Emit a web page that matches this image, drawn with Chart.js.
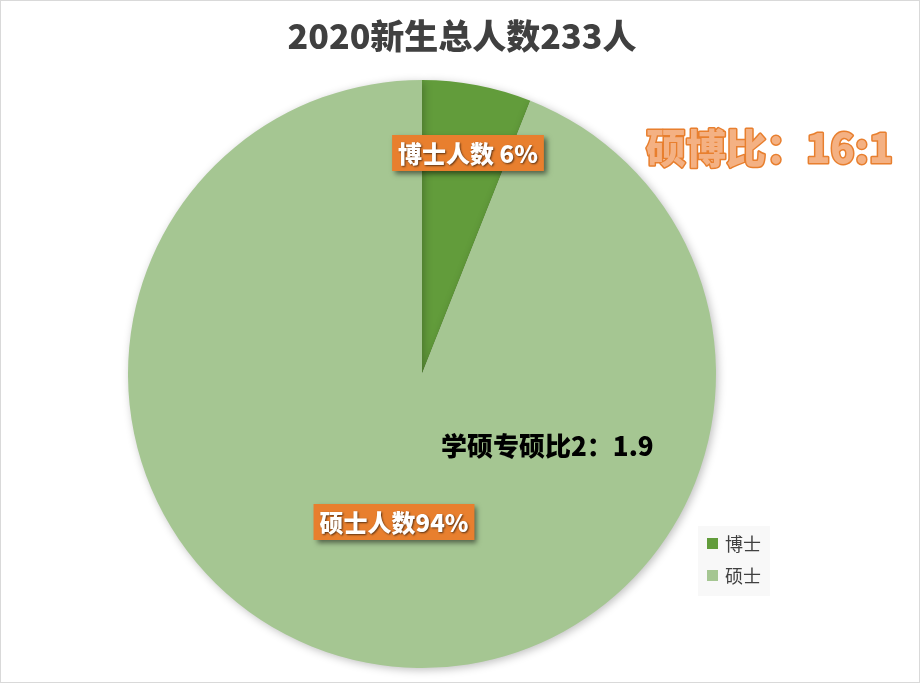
<!DOCTYPE html>
<html><head><meta charset="utf-8">
<script src="https://cdn.jsdelivr.net/npm/chart.js@4"></script>
<style>body{margin:0;background:#fff}#w{width:920px;height:683px;position:relative}</style>
</head><body><div id="w"><canvas id="c" width="920" height="683"></canvas></div>
<script>
const categories = ['博士','硕士'];
const values = [14, 219];
const colors = ['#629C3B','#A5C692'];
const title = '2020新生总人数233人';
const labelTexts = ['博士人数 6%','硕士人数94%'];
const F = '"Noto Sans CJK SC", sans-serif';

function box(ctx, text, cx, cy){
  ctx.font = '900 24px '+F;
  const w = ctx.measureText(text).width + 12, h = 36;
  ctx.save();
  ctx.shadowColor='rgba(0,0,0,0.5)'; ctx.shadowBlur=5; ctx.shadowOffsetX=3; ctx.shadowOffsetY=3;
  ctx.fillStyle='#E87F2E'; ctx.fillRect(cx-w/2, cy-h/2, w, h);
  ctx.restore();
  ctx.save();
  ctx.shadowColor='rgba(0,0,0,0.6)'; ctx.shadowBlur=2; ctx.shadowOffsetX=1; ctx.shadowOffsetY=1;
  ctx.fillStyle='#fff'; ctx.textAlign='center'; ctx.textBaseline='middle';
  ctx.fillText(text, cx, cy+1);
  ctx.restore();
}
const deco = {
  id:'deco',
  beforeDatasetsDraw(chart){ const c=chart.ctx; c.save(); c.shadowColor='rgba(0,0,0,0.25)'; c.shadowBlur=8; c.shadowOffsetX=2; c.shadowOffsetY=2; },
  afterDatasetsDraw(chart){
    const ctx=chart.ctx; ctx.restore();
    ctx.save();
    ctx.strokeStyle='#d9d9d9'; ctx.strokeRect(0.5,0.5,919,682);
    ctx.fillStyle='#404040'; ctx.font='900 34px '+F; ctx.textAlign='center'; ctx.textBaseline='middle';
    ctx.fillText(title, 462, 36);
    box(ctx, labelTexts[0], 468, 153);
    box(ctx, labelTexts[1], 394, 522);
    ctx.font='900 26px '+F; ctx.fillStyle='#000'; ctx.textAlign='left';
    ctx.fillText('学硕专硕比2：1.9', 441, 446);
    ctx.font='900 40px '+F; ctx.lineWidth=3; ctx.strokeStyle='#E87F2E';
    ctx.lineJoin='round';
    ctx.strokeText('硕博比：16:1', 646, 148);
    ctx.fillStyle='#F4B183'; ctx.fillText('硕博比：16:1', 646, 148);
    ctx.fillStyle='#f8f8f8'; ctx.fillRect(698,526,72,70);
    ctx.font='18px '+F; ctx.fillStyle='#404040';
    categories.forEach((n,i)=>{ ctx.fillStyle=colors[i]; ctx.fillRect(707,538+i*32,11,11); ctx.fillStyle='#404040'; ctx.fillText(n,725,544+i*32); });
    ctx.restore();
  }
};
new Chart(document.getElementById('c'), {
  type:'pie',
  data:{labels:categories, datasets:[{data:values, backgroundColor:colors, borderWidth:0}]},
  options:{responsive:false, animation:false,
    layout:{padding:{left:128,right:204,top:80,bottom:15}},
    plugins:{legend:{display:false}, tooltip:{enabled:false}}},
  plugins:[deco]
});
</script></body></html>
